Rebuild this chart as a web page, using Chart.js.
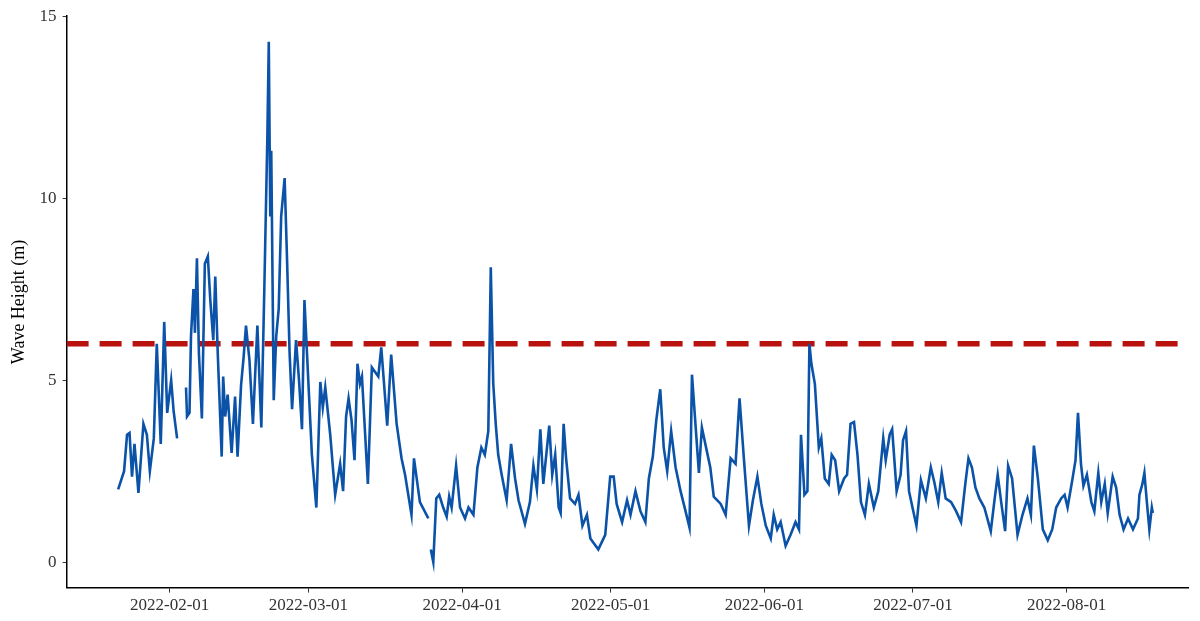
<!DOCTYPE html>
<html><head><meta charset="utf-8">
<script src="https://cdn.jsdelivr.net/npm/chart.js@4.4.1/dist/chart.umd.min.js"></script>
<style>html,body{margin:0;padding:0;background:#fff}#w{width:1200px;height:621px}</style>
</head><body><div id="w"><canvas id="c"></canvas></div>
<script>
// day of year 2022 (Jan 1 = 1)
const days = [21.6,22.8,23.4,23.9,24.4,24.9,25.7,26.7,27.4,28.0,28.8,29.4,30.2,30.9,31.5,32.3,32.8,33.5,34.5,
35.3,35.5,36.0,36.3,36.8,37.1,37.5,37.9,38.5,39.1,39.7,40.2,40.8,41.2,41.7,42.5,42.8,43.2,43.7,44.5,45.2,45.7,46.4,46.9,47.4,48.1,48.8,49.7,50.5,51.1,51.7,52.0,52.3,52.5,53.0,53.5,54.0,54.5,55.2,55.7,56.2,56.7,57.5,58.1,58.7,59.2,59.9,60.7,61.6,62.4,62.9,63.4,64.4,65.0,65.4,66.4,67.0,67.6,68.1,68.7,69.3,69.9,70.4,70.8,72.0,72.8,74.1,74.7,75.4,75.9,76.7,77.8,78.8,79.5,80.8,81.3,82.5,84.2,84.6,
84.7,85.2,85.8,86.4,87.2,87.9,88.4,88.9,89.8,90.6,91.6,92.3,93.3,94.1,94.9,95.6,96.3,96.8,97.3,97.8,98.3,99.0,100.0,100.9,101.7,102.4,103.7,104.7,105.4,106.1,106.8,107.4,108.6,109.2,109.8,110.5,110.9,111.5,112.0,112.8,113.8,114.5,115.3,116.2,116.9,117.7,118.5,119.9,120.9,121.6,122.2,123.3,124.3,125.0,126.0,127.0,128.0,128.7,129.5,130.2,131.0,131.7,132.4,133.2,134.1,135.1,136.1,136.9,137.4,138.1,138.8,139.4,140.4,141.1,141.8,143.2,144.2,145.2,146.2,147.0,147.9,148.9,149.7,150.6,151.4,152.3,153.3,153.9,154.6,
155.3,156.3,157.3,158.3,159.0,159.4,160.1,160.7,161.1,161.5,162.2,163.0,163.5,164.2,165.0,165.6,166.3,167.1,168.1,168.7,169.4,170.1,170.8,171.5,172.3,173.1,174.1,175.0,176.0,176.5,177.3,177.8,178.7,179.5,180.0,180.6,181.2,181.9,182.7,183.6,184.6,185.6,186.3,187.1,187.8,188.6,189.7,190.7,191.7,192.6,193.2,193.9,194.6,195.4,196.4,197.7,198.4,199.1,199.8,200.6,201.2,202.0,203.1,204.1,205.1,205.8,206.4,207.2,208.2,209.2,210.1,210.9,211.9,212.6,213.2,214.2,214.8,215.3,215.9,216.4,217.1,218.0,218.6,219.4,220.0,220.7,221.3,222.3,223.0,223.7,224.5,225.4,226.4,227.4,227.7,228.3,228.7,229.2,229.7,230.2,230.4];
const waveHeight = [2.0,2.5,3.5,3.55,2.35,3.25,1.9,3.8,3.5,2.5,3.4,6.0,3.25,6.6,4.1,5.0,4.15,3.4,null,
4.8,4.0,4.1,6.2,7.5,6.3,8.35,5.75,3.95,8.2,8.4,7.2,6.1,7.85,5.75,2.9,5.1,4.0,4.6,3.0,4.55,2.9,4.85,5.6,6.5,5.55,3.8,6.5,3.7,7.5,11.6,14.3,9.5,11.3,4.45,6.2,6.95,9.5,10.55,8.25,5.75,4.2,6.1,5.0,3.65,7.2,5.2,2.95,1.5,4.95,4.25,4.8,3.5,2.5,1.85,2.7,1.95,4.0,4.5,3.9,2.8,5.45,4.9,5.1,2.15,5.35,5.1,5.9,4.65,3.75,5.7,3.8,2.85,2.4,1.3,2.85,1.65,1.2,null,
0.35,0.0,1.75,1.85,1.5,1.25,1.8,1.5,2.65,1.5,1.2,1.5,1.3,2.6,3.15,2.95,3.6,8.1,4.9,3.8,2.95,2.4,1.7,3.25,2.3,1.7,1.05,1.65,2.65,2.0,3.65,2.15,3.75,2.4,2.95,1.5,1.35,3.8,2.85,1.75,1.6,1.85,1.0,1.3,0.65,0.5,0.35,0.75,2.35,2.35,1.6,1.1,1.7,1.3,1.95,1.4,1.1,2.3,2.9,3.9,4.75,3.15,2.5,3.6,2.6,1.95,1.4,0.95,5.15,3.8,2.45,3.7,3.05,2.6,1.8,1.6,1.3,2.85,2.7,4.5,2.8,1.0,1.7,2.35,1.6,1.0,0.65,1.3,0.9,
1.1,0.45,0.75,1.1,0.9,3.5,1.85,1.95,6.0,5.45,4.9,3.15,3.4,2.3,2.15,2.95,2.8,1.95,2.3,2.4,3.8,3.85,2.95,1.65,1.3,2.15,1.5,1.95,3.4,2.8,3.5,3.65,1.95,2.4,3.35,3.6,1.95,1.5,1.0,2.25,1.75,2.6,2.2,1.65,2.45,1.75,1.65,1.4,1.1,2.2,2.85,2.6,2.05,1.75,1.5,0.85,1.65,2.4,1.65,0.85,2.65,2.3,0.75,1.3,1.75,1.3,3.2,2.3,0.9,0.6,0.9,1.5,1.75,1.85,1.5,2.3,2.8,4.1,2.7,2.1,2.4,1.65,1.4,2.45,1.65,2.15,1.35,2.35,2.05,1.3,0.9,1.2,0.9,1.2,1.85,2.15,2.45,1.65,0.9,1.5,1.35];
const threshold = 6;
const tickDays = [32,60,91,121,152,182,213];
const tickLabels = ['2022-02-01','2022-03-01','2022-04-01','2022-05-01','2022-06-01','2022-07-01','2022-08-01'];
const yTicks = [0,5,10,15];
const xMin = 11.2, xMax = 237.5;

const font = {family:'"Liberation Serif", "DejaVu Serif", serif', size:17};
new Chart(document.getElementById('c'), {
  type:'line',
  data:{datasets:[
    {data:days.map((d,i)=>({x:d,y:waveHeight[i]})), borderColor:'#0b53a8', borderWidth:2.6, pointRadius:0, spanGaps:false, tension:0},
    {data:[{x:xMin,y:threshold},{x:xMax,y:threshold}], borderColor:'#b8110e', borderWidth:5.5, borderDash:[22,11], pointRadius:0}
  ]},
  options:{
    responsive:true, maintainAspectRatio:false, animation:false,
    layout:{padding:{top:14,right:12,left:4,bottom:2}},
    plugins:{legend:{display:false},tooltip:{enabled:false}},
    scales:{
      x:{type:'linear',min:xMin,max:xMax,
        afterBuildTicks:a=>{a.ticks=tickDays.map(v=>({value:v}));},
        ticks:{color:'#333',font,autoSkip:false,maxRotation:0,callback:(v)=>tickLabels[tickDays.indexOf(v)]},
        grid:{display:true,drawOnChartArea:false,drawTicks:true,tickLength:5,color:'#333'},
        border:{color:'#000',width:1.5}},
      y:{min:-0.7,max:15,
        afterBuildTicks:a=>{a.ticks=yTicks.map(v=>({value:v}));},
        ticks:{color:'#333',font,padding:6},
        grid:{display:true,drawOnChartArea:false,drawTicks:true,tickLength:4,color:'#333'},
        border:{color:'#000',width:1.5},
        title:{display:true,text:'Wave Height (m)',color:'#000',font:{family:font.family,size:18},padding:{bottom:4}}}
    }
  }
});
</script></body></html>
